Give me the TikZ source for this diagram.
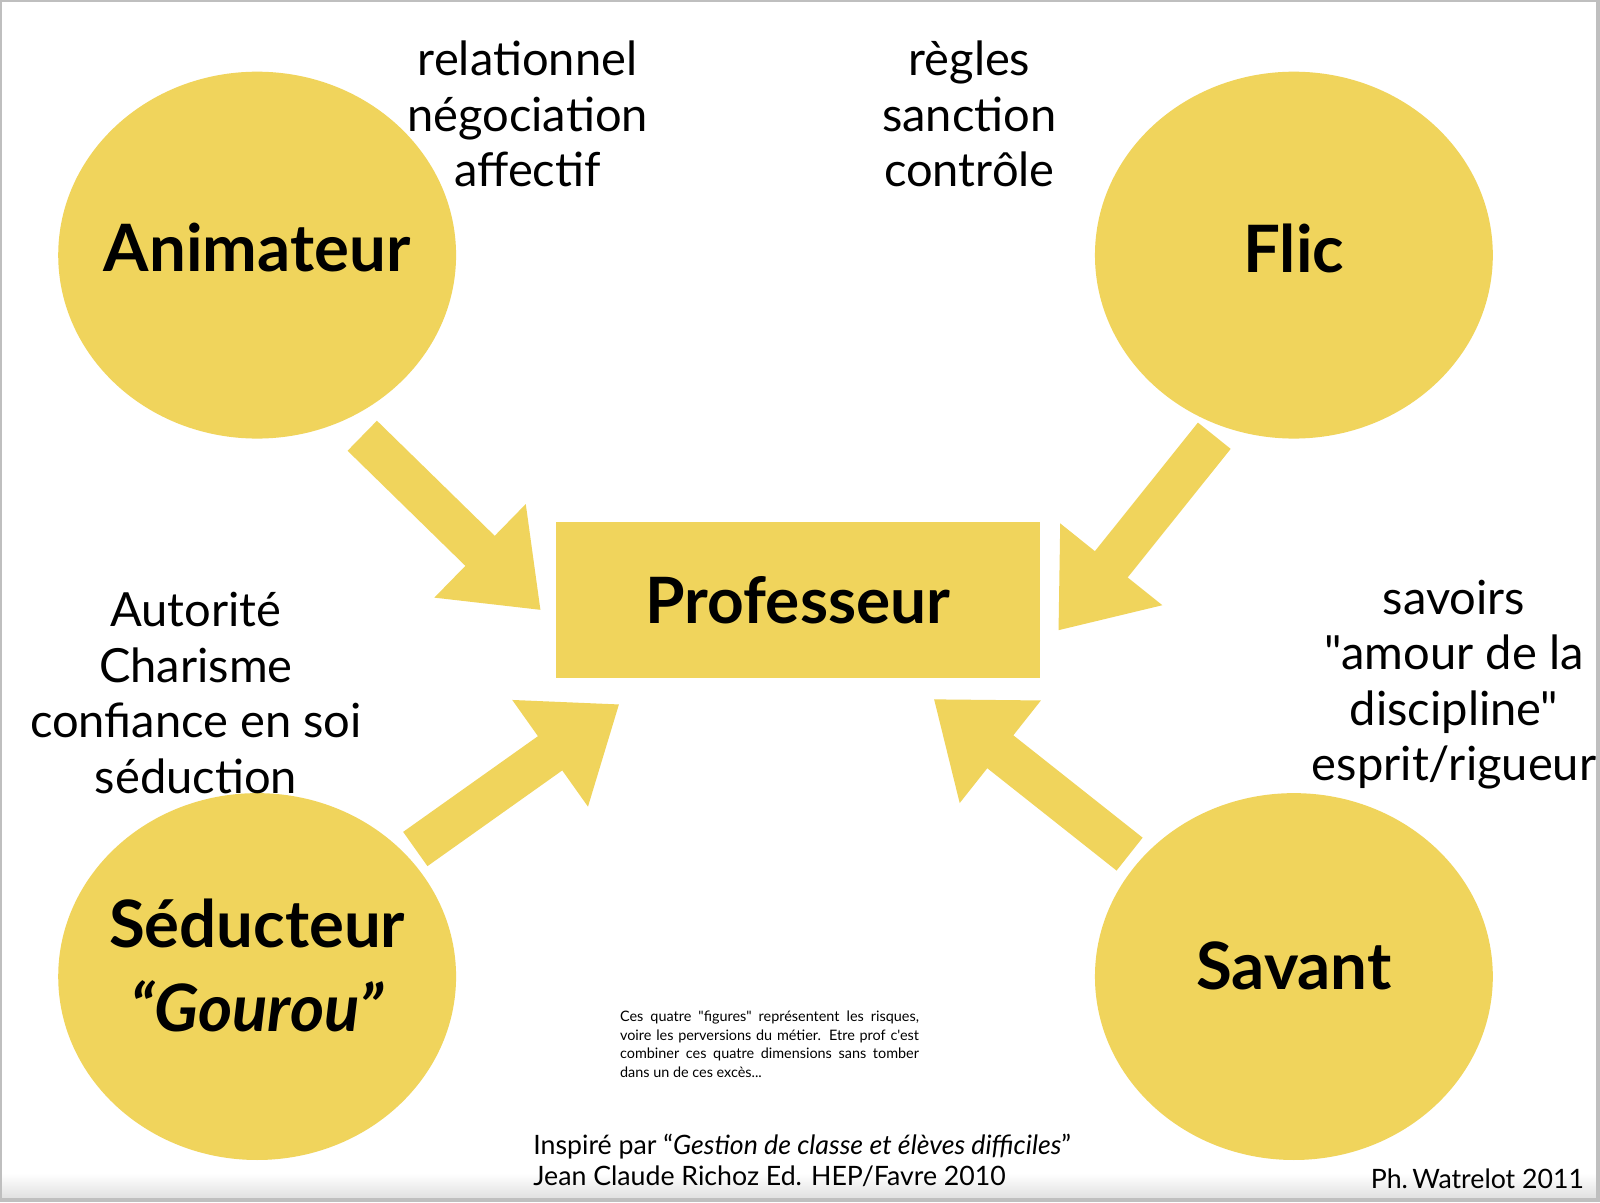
\documentclass[tikz,border=0pt]{standalone}
\usepackage{fontspec}
\setmainfont{Lato}[Ligatures=TeXOff]
\usetikzlibrary{arrows.meta,shapes.geometric}
\definecolor{jaune}{HTML}{F0D45C}
\tikzset{
 disc/.style={fill=jaune,ellipse,minimum width=3.98cm,minimum height=3.67cm,inner sep=0pt},
 big/.style={font=\fontsize{18.6}{22}\selectfont\bfseries,align=center,inner sep=0pt},
 bloc/.style={line width=0.42cm,draw=jaune,-{Triangle[length=0.85cm,width=1.25cm]}},
 mots/.style={align=center,font=\fontsize{13.4}{15.8}\selectfont}
}
\begin{document}
\begin{tikzpicture}[x=0.010204cm,y=-0.010204cm]
\useasboundingbox (0,0) rectangle (1568,1178);
\fill[white] (0,0) rectangle (1568,1178);
\shade[top color=white,bottom color=gray!25] (1,1150) rectangle (1565,1175);
\draw[gray!50,line width=1pt] (0.5,0.5) rectangle (1566,1176);
\node[disc] (ani) at (252,250) {};
\node[disc] (flic) at (1268,250) {};
\node[disc] (sed) at (252,957) {};
\node[disc] (sav) at (1268,957) {};
\node[big] (lani) at (252,243) {Animateur};
\node[big] (lflic) at (1268,243) {Flic};
\node[big] (lsed) at (252,946) {Séducteur\\[2pt]\itshape “Gourou”};
\node[big] (lsav) at (1268,947) {Savant};
\node[fill=jaune,minimum width=4.84cm,minimum height=1.56cm,font=\fontsize{18.2}{22}\selectfont\bfseries] (prof) at (782,588) {Professeur};
\coordinate (a1) at (355,427); \coordinate (a2) at (530,598);
\coordinate (b1) at (1190,427); \coordinate (b2) at (1037,618);
\coordinate (c1) at (407,832); \coordinate (c2) at (607,690);
\coordinate (d1) at (1107,837); \coordinate (d2) at (915,685);
\draw[bloc] (a1) -- (a2);
\draw[bloc] (b1) -- (b2);
\draw[bloc] (c1) -- (c2);
\draw[bloc] (d1) -- (d2);
\node[mots] (t1) at (517,112) {relationnel\\négociation\\affectif};
\node[mots] (t2) at (950,112) {règles\\sanction\\contrôle};
\node[mots] (t3) at (192,679) {Autorité\\Charisme\\confiance en soi\\séduction};
\node[mots] (t4) at (1425,671) {savoirs\\"amour de la\\discipline"\\esprit/rigueur};
\node[anchor=north west,text width=2.99cm,align=justify,font=\fontsize{4.1}{5.3}\selectfont,inner sep=0pt] (note) at (607,990) {Ces quatre "figures" représentent les risques, voire les perversions du métier. Etre prof c'est combiner ces quatre dimensions sans tomber dans un de ces excès...};
\node[anchor=west,align=left,font=\fontsize{7.6}{9}\selectfont,inner sep=0pt] (src) at (522,1137) {Inspiré par “\textit{Gestion de classe et élèves difficiles}”\\Jean Claude Richoz Ed. HEP/Favre 2010};
\node[anchor=east,font=\fontsize{7.6}{9}\selectfont,inner sep=0pt] (aut) at (1553,1155) {Ph.\,Watrelot 2011};
\end{tikzpicture}
\end{document}
